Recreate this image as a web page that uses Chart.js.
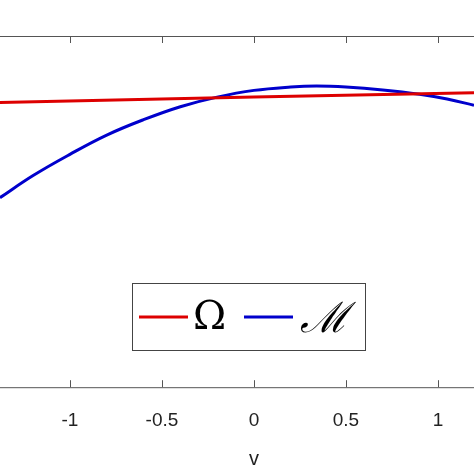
<!DOCTYPE html>
<html>
<head>
<meta charset="utf-8">
<script src="https://cdn.jsdelivr.net/npm/chart.js@4"></script>
<style>
html, body { margin: 0; padding: 0; background: #fff; }
#wrap { width: 474px; height: 474px; }
</style>
</head>
<body>
<div id="wrap"><canvas id="c"></canvas></div>
<script>
// values (y is in arbitrary units)
const xTicks = [-1, -0.5, 0, 0.5, 1];
const xLabel = 'v';
const omegaV = [-1.38, 0, 1.196];
const omegaY = [296, 301.5, 306];
const mV = [-1.38, -1.2, -1, -0.8, -0.6, -0.4, -0.2, 0, 0.2, 0.34, 0.5, 0.7, 0.9, 1.05, 1.196];
const mY = [197, 220, 242, 262, 278, 291.5, 301.5, 308.5, 312, 313, 312, 309, 304.5, 299.5, 293];

const toPts = (xs, ys) => xs.map((x, i) => ({ x: x, y: ys[i] }));

// inward tick marks, top border, legend and axis label, MATLAB style
const boxTicks = {
    id: 'boxTicks',
    afterDraw(chart) {
        const { ctx, chartArea: a } = chart;
        const sx = chart.scales.x;
        ctx.save();
        ctx.strokeStyle = '#555';
        ctx.lineWidth = 1;
        ctx.beginPath();
        ctx.moveTo(a.left, a.top + 0.5); ctx.lineTo(a.right, a.top + 0.5);
        ctx.moveTo(a.left, a.bottom + 0.5); ctx.lineTo(a.right, a.bottom + 0.5);
        xTicks.forEach(t => {
            const p = Math.round(sx.getPixelForValue(t)) + 0.5;
            ctx.moveTo(p, a.top); ctx.lineTo(p, a.top + 7);
            ctx.moveTo(p, a.bottom); ctx.lineTo(p, a.bottom - 7);
        });
        ctx.stroke();

        ctx.fillStyle = '#222';
        ctx.textAlign = 'center';
        ctx.textBaseline = 'middle';
        ctx.font = '20px "Liberation Sans"';
        ctx.fillText(xLabel, sx.getPixelForValue(0), 459);

        // legend box
        ctx.fillStyle = '#fff';
        ctx.fillRect(133, 284, 233, 66);
        ctx.strokeStyle = '#444';
        ctx.strokeRect(132.5, 283.5, 233, 67);
        ctx.lineWidth = 3;
        ctx.strokeStyle = '#dd0000';
        ctx.beginPath(); ctx.moveTo(139, 317); ctx.lineTo(188, 317); ctx.stroke();
        ctx.strokeStyle = '#0000cc';
        ctx.beginPath(); ctx.moveTo(244, 317); ctx.lineTo(293, 317); ctx.stroke();
        ctx.fillStyle = '#000';
        ctx.textAlign = 'left';
        ctx.font = '40px "DejaVu Serif"';
        ctx.fillText('Ω', 193, 319);
        ctx.font = 'italic 42px "DejaVu Serif"';
        ctx.fillText('ℳ', 300, 321);
        ctx.restore();
    }
};

new Chart(document.getElementById('c'), {
    type: 'line',
    data: {
        datasets: [{
            label: 'Ω',
            data: toPts(omegaV, omegaY),
            borderColor: '#dd0000',
            borderWidth: 3,
            pointRadius: 0,
            fill: false
        }, {
            label: 'ℳ',
            data: toPts(mV, mY),
            borderColor: '#0000cc',
            borderWidth: 3,
            pointRadius: 0,
            tension: 0.4,
            fill: false
        }]
    },
    options: {
        responsive: true,
        maintainAspectRatio: false,
        animation: false,
        layout: { padding: { top: 36, left: 0, right: 0, bottom: 28 } },
        plugins: { legend: { display: false }, tooltip: { enabled: false } },
        scales: {
            x: {
                type: 'linear',
                min: -1.38,
                max: 1.196,
                afterBuildTicks: s => { s.ticks = xTicks.map(v => ({ value: v })); },
                grid: { display: false },
                border: { display: false },
                ticks: {
                    padding: 14,
                    color: '#222',
                    font: { family: 'Liberation Sans', size: 19 },
                    callback: v => String(v)
                }
            },
            y: { display: false, min: 0, max: 365 }
        }
    },
    plugins: [boxTicks]
});
</script>
</body>
</html>
